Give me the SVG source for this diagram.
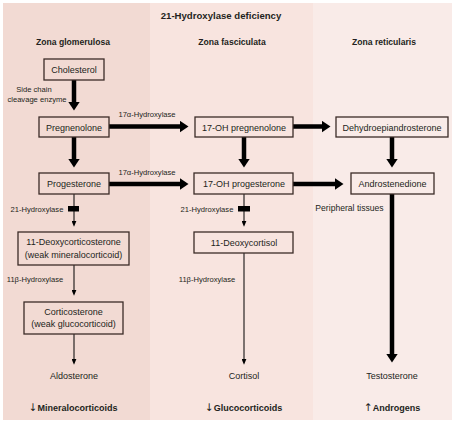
<svg xmlns="http://www.w3.org/2000/svg" width="474" height="422" viewBox="0 0 474 422">
<style>
text{font-family:"Liberation Sans",Arial,sans-serif;fill:#231f20;text-anchor:middle}
.title{font-size:9.6px;font-weight:bold}
.zone{font-size:8.6px;font-weight:bold}
.box{font-size:9px}
.lbl{font-size:7.6px}
.lbl8{font-size:8.6px}
.out{font-size:9px;font-weight:bold}
.arr{font-family:"DejaVu Sans",sans-serif;font-weight:normal;font-size:10.5px}
.bx{fill:none;stroke:#3b2b27;stroke-width:1.3}
.thick{stroke:#000;stroke-width:4.5;fill:none}
.thin{stroke:#000;stroke-width:1;fill:none}
</style>
<defs>
<marker id="ah" viewBox="0 0 9 12" refX="0.5" refY="6" markerWidth="9" markerHeight="12" markerUnits="userSpaceOnUse" orient="auto"><path d="M0,0 L9,6 L0,12 z" fill="#000"/></marker>
<marker id="as" viewBox="0 0 6 5" refX="0.3" refY="2.5" markerWidth="6" markerHeight="5" markerUnits="userSpaceOnUse" orient="auto"><path d="M0,0 L6,2.5 L0,5 z" fill="#000"/></marker>
</defs>
<rect width="474" height="422" fill="#fff"/>
<g id="panels">
<rect x="3" y="3" width="147" height="417" fill="#f2dad3"/>
<rect x="150" y="3" width="163" height="417" fill="#f8e4df"/>
<rect x="313" y="3" width="139" height="417" fill="#f9ebe8"/>
</g>
<g id="headers">
<text class="title" x="221" y="18.5">21-Hydroxylase deficiency</text>
<text class="zone" x="73" y="45">Zona glomerulosa</text>
<text class="zone" x="232" y="45">Zona fasciculata</text>
<text class="zone" x="384" y="45">Zona reticularis</text>
</g>
<g id="connectors">
<line class="thick" x1="74" y1="80" x2="74" y2="102" marker-end="url(#ah)"/>
<line class="thick" x1="74" y1="137" x2="74" y2="159" marker-end="url(#ah)"/>
<line class="thick" x1="244" y1="137" x2="244" y2="159" marker-end="url(#ah)"/>
<line class="thick" x1="392" y1="137" x2="392" y2="159" marker-end="url(#ah)"/>
<line class="thick" x1="109" y1="126.5" x2="180" y2="126.5" marker-end="url(#ah)"/>
<line class="thick" x1="293" y1="126.5" x2="322" y2="126.5" marker-end="url(#ah)"/>
<line class="thick" x1="109" y1="184" x2="180" y2="184" marker-end="url(#ah)"/>
<line class="thick" x1="293" y1="184" x2="335" y2="184" marker-end="url(#ah)"/>
<line class="thick" x1="392" y1="194" x2="392" y2="354" marker-end="url(#ah)"/>
<line class="thin" x1="74" y1="194" x2="74" y2="221" marker-end="url(#as)"/>
<line class="thin" x1="244" y1="194" x2="244" y2="221" marker-end="url(#as)"/>
<line class="thin" x1="74" y1="265" x2="74" y2="290" marker-end="url(#as)"/>
<line class="thin" x1="74" y1="334" x2="74" y2="359" marker-end="url(#as)"/>
<line class="thin" x1="244" y1="253" x2="244" y2="359" marker-end="url(#as)"/>
<rect x="68" y="206" width="11" height="5.5" fill="#000"/>
<rect x="238" y="206" width="12" height="5.5" fill="#000"/>
<text class="lbl" x="34" y="92">Side chain</text>
<text class="lbl" x="37" y="102">cleavage enzyme</text>
<text class="lbl" x="147" y="116.5">17α-Hydroxylase</text>
<text class="lbl" x="147" y="175">17α-Hydroxylase</text>
<text class="lbl" x="37" y="211.5">21-Hydroxylase</text>
<text class="lbl" x="207" y="211.5">21-Hydroxylase</text>
<text class="lbl8" x="349.5" y="211">Peripheral tissues</text>
<text class="lbl" x="35" y="281.5">11β-Hydroxylase</text>
<text class="lbl" x="207" y="281.5">11β-Hydroxylase</text>
</g>
<g id="cholesterol"><rect class="bx" x="44" y="59" width="60" height="21"/><text class="box" x="74" y="73">Cholesterol</text></g>
<g id="pregnenolone"><rect class="bx" x="39" y="117" width="70" height="20"/><text class="box" x="74" y="130.5">Pregnenolone</text></g>
<g id="oh-pregnenolone"><rect class="bx" x="195" y="117" width="98" height="20"/><text class="box" x="244" y="130.5">17-OH pregnenolone</text></g>
<g id="dhea"><rect class="bx" x="336" y="117" width="112" height="20"/><text class="box" x="392" y="130.5">Dehydroepiandrosterone</text></g>
<g id="progesterone"><rect class="bx" x="39" y="173" width="70" height="21"/><text class="box" x="74" y="187">Progesterone</text></g>
<g id="oh-progesterone"><rect class="bx" x="194" y="173" width="99" height="21"/><text class="box" x="244" y="187">17-OH progesterone</text></g>
<g id="androstenedione"><rect class="bx" x="351" y="173" width="83" height="21"/><text class="box" x="392.5" y="187">Androstenedione</text></g>
<g id="deoxycorticosterone"><rect class="bx" x="18" y="232" width="111" height="33"/><text class="box" x="73.5" y="244.5">11-Deoxycorticosterone</text><text class="box" x="73.5" y="257.5">(weak mineralocorticoid)</text></g>
<g id="deoxycortisol"><rect class="bx" x="194" y="232" width="99" height="21"/><text class="box" x="244" y="246">11-Deoxycortisol</text></g>
<g id="corticosterone"><rect class="bx" x="24" y="302" width="99" height="32"/><text class="box" x="73.5" y="315">Corticosterone</text><text class="box" x="73.5" y="327">(weak glucocorticoid)</text></g>
<g id="aldosterone"><text class="box" x="74" y="379">Aldosterone</text></g>
<g id="cortisol"><text class="box" x="244" y="379">Cortisol</text></g>
<g id="testosterone"><text class="box" x="392" y="378.5">Testosterone</text></g>
<g id="outcomes">
<text class="out" x="73" y="411"><tspan class="arr">↓</tspan>Mineralocorticoids</text>
<text class="out" x="243.5" y="411"><tspan class="arr">↓</tspan>Glucocorticoids</text>
<text class="out" x="392" y="411"><tspan class="arr">↑</tspan>Androgens</text>
</g>
</svg>
